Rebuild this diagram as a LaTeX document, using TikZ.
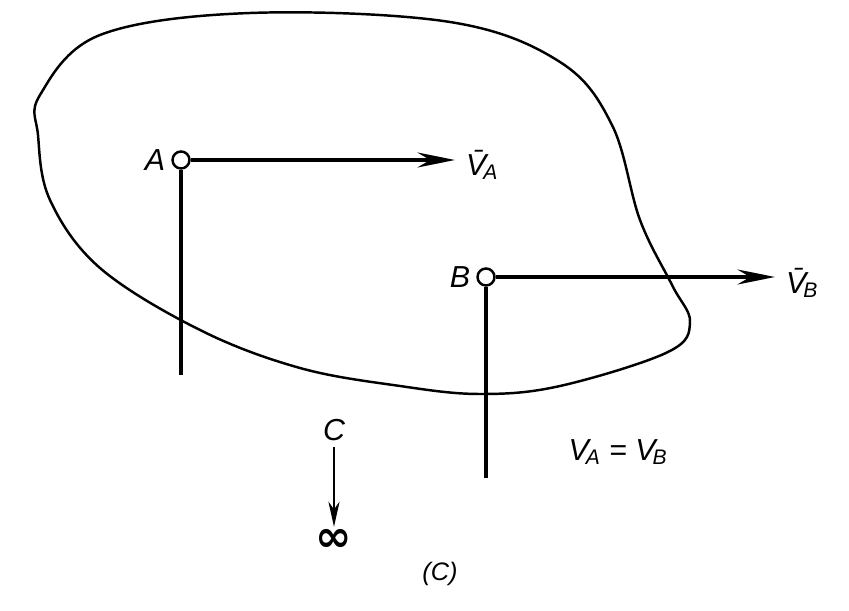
\documentclass[tikz,border=0pt]{standalone}
\usepackage{fontspec}
\setmainfont{Liberation Sans}
\newfontfamily\symfont{DejaVu Sans}
\usetikzlibrary{arrows.meta,positioning}
\tikzstyle{vec}=[draw,-{Stealth[length=0.75cm,width=0.3cm,inset=0.25cm]},line width=2.2pt]
\tikzstyle{post}=[draw,line width=2.2pt]
\tikzstyle{pin}=[circle,draw,line width=1.4pt,fill=white,inner sep=0pt,minimum size=0.34cm]
\tikzstyle{lbl}=[font=\itshape\LARGE]
\newcommand{\vsub}[1]{\=V\kern-0.1em\textsubscript{#1}}
\begin{document}
\begin{tikzpicture}[x=0.02cm,y=-0.02cm]
\useasboundingbox (0,0) rectangle (849,611);
% body outline
\draw[line width=1.4pt] plot[smooth cycle,tension=0.6] coordinates {
 (40,95) (100,35) (250,13) (450,22) (560,62) (612,125) (640,220)
 (672,285) (690,322) (668,352) (560,386) (480,394) (400,386)
 (300,368) (200,330) (100,268) (50,200) (38,135)};
% point A
\node[pin] (a) at (181,160) {};
\node[lbl,left=0pt of a] (al) {A};
\coordinate (av) at (455,160);
\node[lbl,anchor=west] (val) at (460,165) {\vsub{A}};
\draw[vec] (a) -- (av);
\coordinate (ab) at (181,375);
\draw[post] (a) -- (ab);
% point B
\node[pin] (b) at (486,277) {};
\node[lbl,left=0pt of b] (bl) {B};
\coordinate (bv) at (775,277);
\node[lbl,anchor=west] (vbl) at (780,283) {\vsub{B}};
\draw[vec] (b) -- (bv);
\coordinate (bb) at (486,478);
\draw[post] (b) -- (bb);
% centre at infinity
\node[lbl] (c) at (334,430) {C};
\node[font=\symfont\bfseries\Huge,inner sep=1pt] (inf) at (334,540) {∞};
\draw[-{Stealth[length=0.5cm,width=0.22cm,inset=0.15cm]},line width=1.6pt] (c) -- (inf);
\node[lbl] (eq) at (618,452) {V\kern-0.1em\textsubscript{A} = V\kern-0.1em\textsubscript{B}};
\node[lbl,font=\itshape\Large] (cap) at (440,574) {(C)};
\end{tikzpicture}
\end{document}
